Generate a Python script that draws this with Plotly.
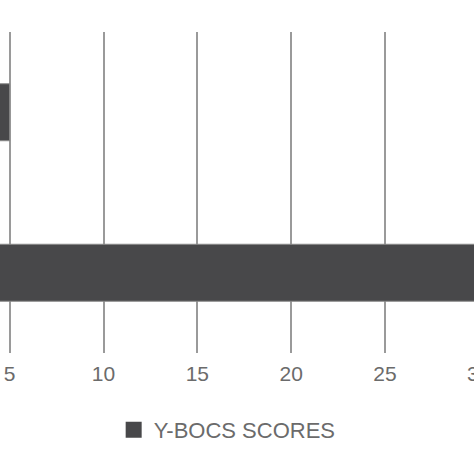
import plotly.graph_objects as go

# Y-BOCS scores per assessment (bottom bar runs past the visible edge)
categories = ["Baseline", "Follow-up"]
scores = [32, 5]
tick_values = [5, 10, 15, 20, 25, 30]
series_name = "Y-BOCS SCORES"

TEXT_GRAY = "#6b6b6b"
BAR_COLOR = "#48484a"
FONT = "Liberation Sans, Arial, sans-serif"

# figure is a bit wider than the window so the "30" label gets cropped like the original
FIG_W = 496

fig = go.Figure()
fig.add_trace(
    go.Bar(
        y=categories,
        x=scores,
        orientation="h",
        name=series_name,
        showlegend=False,
        marker=dict(color=BAR_COLOR, line=dict(color="#8a8a8a", width=1)),
    )
)
# legend key only (square swatch like the original)
fig.add_trace(
    go.Scatter(
        x=[None],
        y=[None],
        mode="markers",
        name=series_name,
        marker=dict(symbol="square", size=17, color=BAR_COLOR),
    )
)

fig.update_layout(
    width=FIG_W,
    height=474,
    margin=dict(l=0, r=0, t=32, b=121),
    paper_bgcolor="white",
    plot_bgcolor="white",
    bargap=0.645,
    font=dict(family=FONT, size=21, color=TEXT_GRAY),
    showlegend=True,
    legend=dict(
        orientation="h",
        x=0.458,
        xanchor="center",
        y=-0.24,
        yanchor="middle",
        itemsizing="trace",
        itemwidth=30,
        font=dict(family=FONT, size=22, color=TEXT_GRAY),
    ),
    xaxis=dict(
        range=[4.483, 30.92],
        tickvals=tick_values,
        showgrid=True,
        gridcolor="#9a9a9a",
        gridwidth=1.5,
        zeroline=False,
        showline=False,
        ticks="",
        ticklabelstandoff=6,
        automargin=False,
    ),
    yaxis=dict(
        type="category",
        showticklabels=False,
        showgrid=False,
        zeroline=False,
        showline=False,
    ),
)

fig.write_html(
    "out.html",
    config={"displayModeBar": False},
    post_script="document.body.style.margin = '0'; document.body.style.overflow = 'hidden';",
)
